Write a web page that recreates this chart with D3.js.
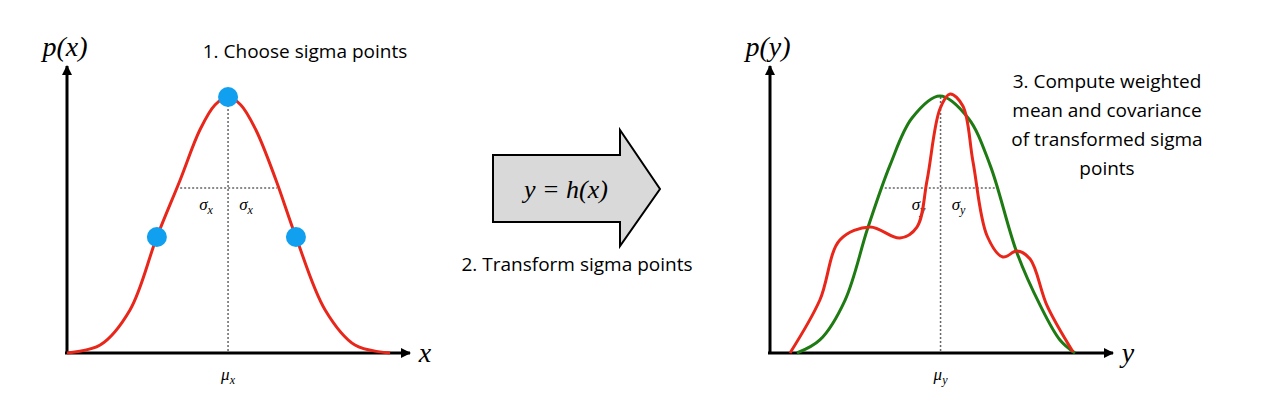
<!DOCTYPE html>
<html>
<head>
<meta charset="utf-8">
<script src="https://cdn.jsdelivr.net/npm/d3@7"></script>
<style>
  body { margin: 0; background: #fff; }
  text { font-family: "Open Sans", sans-serif; }
  .math { font-family: "Liberation Serif", serif; font-style: italic; }
</style>
</head>
<body>
<div id="vis"></div>
<script>
// input density p(x) (x 0..100, y 0..100)
const inputX = [0, 10.1, 19.2, 27.4, 34.5, 40.5, 45.1, 49.1, 53.0, 57.6, 63.7, 69.8, 78.7, 87.8, 98.5];
const inputY = [0, 3.1, 16.8, 45.3, 67.6, 87.1, 96.9, 100, 96.9, 87.1, 67.6, 45.3, 16.8, 3.1, 0];
// sigma points
const sigmaX = [27.4, 49.1, 69.8];
const sigmaY = [45.3, 100, 45.3];
// transformed density (red)
const transX = [6.1, 15.2, 21.3, 30.5, 39.6, 44.8, 47.9, 51.8, 54.9, 58.8, 61.9, 66.2, 71.0, 75.3, 79.3, 84.5, 92.4];
const transY = [0, 20.7, 44.1, 49.2, 44.9, 49.2, 67.6, 95.3, 101.2, 96.5, 74.6, 45.7, 37.5, 39.8, 36.7, 18.4, 0.4];
// gaussian fit (green)
const fitX = [8.2, 15.2, 22.9, 29.9, 36.6, 43.3, 51.8, 60.4, 67.1, 75.3, 82.3, 88.4, 93.0];
const fitY = [0, 5.1, 20.7, 49.2, 73.4, 91.8, 100.4, 91.8, 73.4, 39.1, 18.8, 5.1, 0];
// mean / sigma markers: [mean, left, right, level]
const leftSigma = [49.1, 34.5, 64.0, 64.5];
const rightSigma = [52.0, 35.0, 68.5, 64.5];
const step3Lines = ["3. Compute weighted", "mean and covariance", "of transformed sigma", "points"];

const svg = d3.select("#vis").append("svg").attr("width", 1266).attr("height", 409);
svg.append("defs").append("marker")
    .attr("id", "arr").attr("viewBox", "0 0 10 10").attr("refX", 9).attr("refY", 5)
    .attr("markerWidth", 10).attr("markerHeight", 10).attr("markerUnits", "userSpaceOnUse")
    .attr("orient", "auto")
  .append("path").attr("d", "M0,0L10,5L0,10z").attr("fill", "#000");

const yS = d3.scaleLinear().domain([0, 100]).range([353, 97]);

function panel(x0, xlab, ylab, sig, sub) {
    const xS = d3.scaleLinear().domain([0, 100]).range([x0, x0 + 328]);
    const g = svg.append("g");
    // dotted guides
    g.append("line").attr("x1", xS(sig[0])).attr("x2", xS(sig[0])).attr("y1", yS(100)).attr("y2", yS(0))
        .attr("stroke", "#666").attr("stroke-width", 1.5).attr("stroke-dasharray", "2,2");
    g.append("line").attr("x1", xS(sig[1])).attr("x2", xS(sig[2])).attr("y1", yS(sig[3])).attr("y2", yS(sig[3]))
        .attr("stroke", "#666").attr("stroke-width", 1.5).attr("stroke-dasharray", "2,2");
    // axes
    g.append("line").attr("x1", x0).attr("x2", x0).attr("y1", 354).attr("y2", 66)
        .attr("stroke", "#000").attr("stroke-width", 3).attr("marker-end", "url(#arr)");
    g.append("line").attr("x1", x0 - 2).attr("x2", x0 + 343).attr("y1", 353).attr("y2", 353)
        .attr("stroke", "#000").attr("stroke-width", 3).attr("marker-end", "url(#arr)");
    g.append("text").attr("class", "math").attr("x", x0 - 2).attr("y", 56).attr("text-anchor", "middle")
        .attr("font-size", 28).text(ylab);
    g.append("text").attr("class", "math").attr("x", x0 + 358).attr("y", 362).attr("text-anchor", "middle")
        .attr("font-size", 28).text(xlab);
    const mu = g.append("text").attr("class", "math").attr("x", xS(sig[0])).attr("y", 380)
        .attr("text-anchor", "middle").attr("font-size", 17).text("μ");
    mu.append("tspan").attr("font-size", 12).attr("dy", 4).text(sub);
    [xS(sig[0]) - 22, xS(sig[0]) + 18].forEach(cx => {
        const t = g.append("text").attr("class", "math").attr("x", cx).attr("y", 210)
            .attr("text-anchor", "middle").attr("font-size", 17).text("σ");
        t.append("tspan").attr("font-size", 12).attr("dy", 4).text(sub);
    });
    return { g, xS };
}

const line = xS => d3.line().x(d => xS(d[0])).y(d => yS(d[1])).curve(d3.curveCatmullRom);

const L = panel(67, "x", "p(x)", leftSigma, "x");
L.g.append("path").datum(d3.zip(inputX, inputY)).attr("d", line(L.xS))
    .attr("fill", "none").attr("stroke", "#e8261a").attr("stroke-width", 3);
L.g.selectAll("circle").data(d3.zip(sigmaX, sigmaY)).join("circle")
    .attr("cx", d => L.xS(d[0])).attr("cy", d => yS(d[1])).attr("r", 10).attr("fill", "#11a0f0");

const R = panel(770, "y", "p(y)", rightSigma, "y");
R.g.append("path").datum(d3.zip(fitX, fitY)).attr("d", line(R.xS))
    .attr("fill", "none").attr("stroke", "#1e7a12").attr("stroke-width", 3);
R.g.append("path").datum(d3.zip(transX, transY)).attr("d", line(R.xS))
    .attr("fill", "none").attr("stroke", "#e8261a").attr("stroke-width", 3);

// step labels
svg.append("text").attr("x", 305).attr("y", 58).attr("text-anchor", "middle").attr("font-size", 19)
    .text("1. Choose sigma points");
svg.append("text").attr("x", 577).attr("y", 271).attr("text-anchor", "middle").attr("font-size", 19)
    .text("2. Transform sigma points");
svg.selectAll("text.s3").data(step3Lines).join("text").attr("class", "s3")
    .attr("x", 1107).attr("y", (d, i) => 88 + i * 29).attr("text-anchor", "middle").attr("font-size", 19)
    .text(d => d);

// transform arrow
svg.append("path").attr("d", "M493,155L620,155L620,130L660,189L620,246L620,222L493,222Z")
    .attr("fill", "#d9d9d9").attr("stroke", "#000").attr("stroke-width", 2);
svg.append("text").attr("class", "math").attr("x", 566).attr("y", 198).attr("text-anchor", "middle")
    .attr("font-size", 26).text("y = h(x)");
</script>
</body>
</html>
